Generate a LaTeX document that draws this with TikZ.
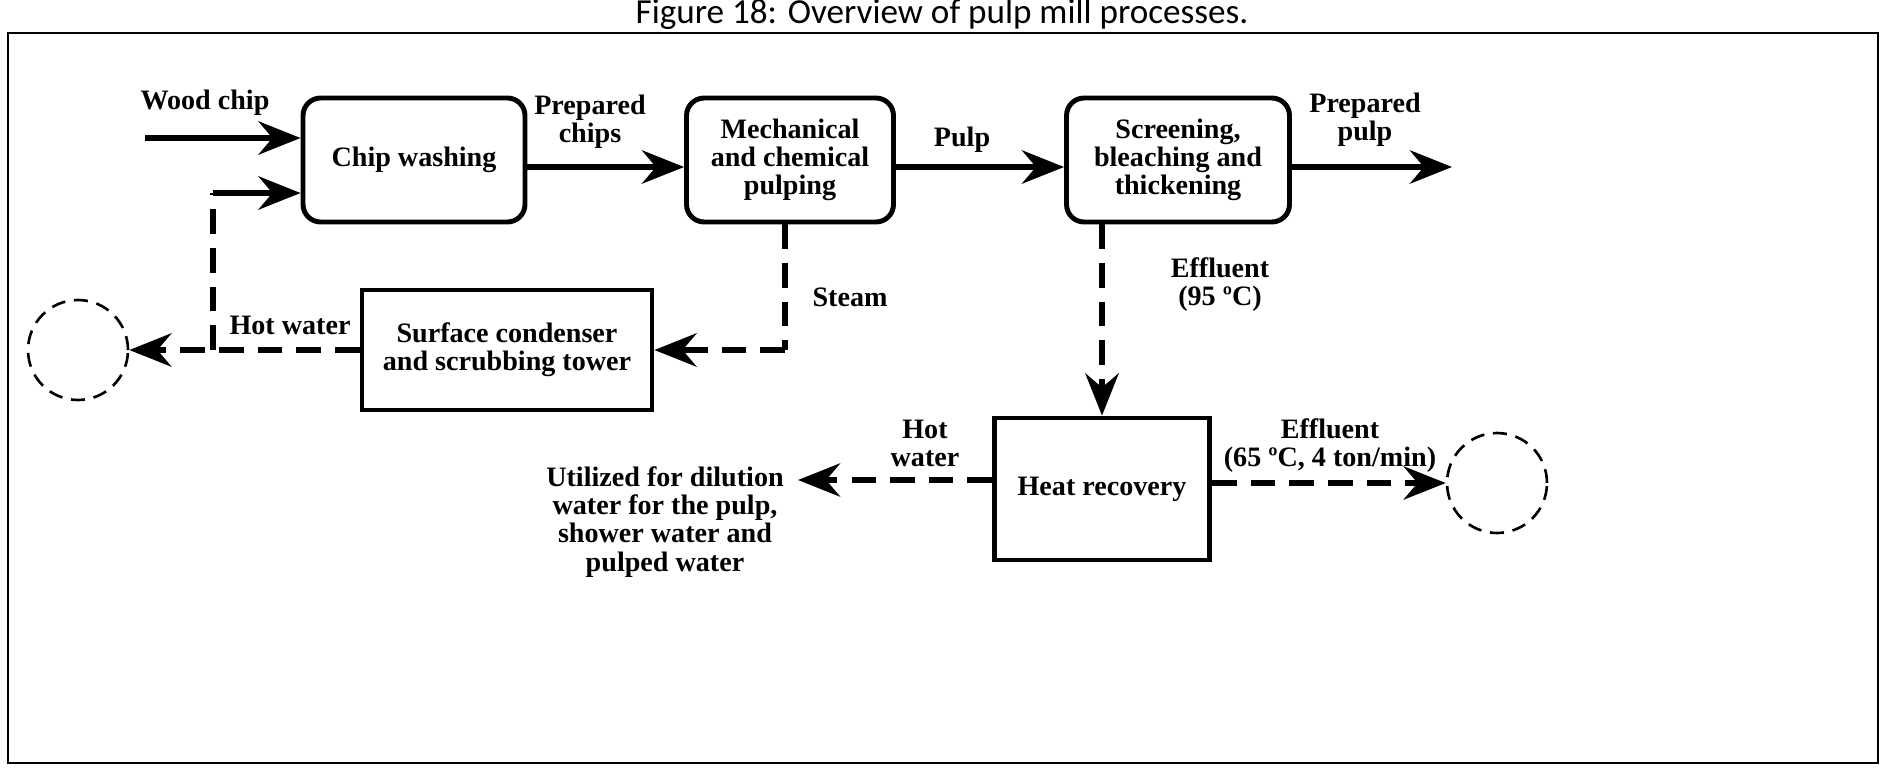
\documentclass[tikz,border=0pt]{standalone}
\usepackage{fontspec}
\setmainfont{Liberation Serif}
\newfontfamily\capfont{Carlito}
\usetikzlibrary{arrows.meta}
\begin{document}
\begin{tikzpicture}[x=0.02cm,y=-0.02cm,
  box/.style={draw,line width=2.8pt,rounded corners=10pt,align=center,font=\bfseries\fontsize{16}{16}\selectfont},
  sbox/.style={draw,line width=2.8pt,align=center,font=\bfseries\fontsize{16}{16}\selectfont},
  lbl/.style={align=center,font=\bfseries\fontsize{16}{16}\selectfont},
  fl/.style={line width=3pt,-{Stealth[length=24pt,width=19pt,inset=8pt]}},
  dfl/.style={fl,dash pattern=on 14pt off 8pt},
  dl/.style={line width=3pt,dash pattern=on 14pt off 8pt},
  circ/.style={draw,circle,line width=1.5pt,dash pattern=on 8pt off 5pt,minimum size=2cm,inner sep=0pt}]
\useasboundingbox (0,0) rectangle (1885,771);
\clip (0,0) rectangle (1885,771);
\node[font=\capfont\fontsize{20}{20}\selectfont] (title) at (942,14) {Figure 18: Overview of pulp mill processes.};
\draw[line width=1.5pt] (8,33) rectangle (1878,763);
\node[box,minimum width=4.44cm,minimum height=2.48cm] (cw) at (414,160) {Chip washing};
\node[box,minimum width=4.14cm,minimum height=2.48cm] (mp) at (790,160) {Mechanical\\and chemical\\pulping};
\node[box,minimum width=4.46cm,minimum height=2.48cm] (sb) at (1178,160) {Screening,\\bleaching and\\thickening};
\node[sbox,minimum width=5.8cm,minimum height=2.4cm] (sc) at (507,350) {Surface condenser\\and scrubbing tower};
\node[sbox,minimum width=4.3cm,minimum height=2.84cm] (hr) at (1102,489) {Heat recovery};
\node[circ] (c1) at (78,350) {};
\node[circ] (c2) at (1497,483) {};
\coordinate (wc) at (145,138);
\coordinate (pp) at (1452,167);
\coordinate (uw) at (798,480);
\coordinate (hw1) at (213,350);
\coordinate (hw2) at (213,193);
\coordinate (st) at (785,350);
\draw[fl] (wc) -- (wc -| cw.west);
\draw[fl] (cw.east |- 0,167) -- (mp.west |- 0,167);
\draw[fl] (mp.east |- 0,167) -- (sb.west |- 0,167);
\draw[fl] (sb.east |- 0,167) -- (pp);
\draw[dfl] (sc.west) -- (c1.east);
\draw[dl] (hw1) -- (hw2);
\draw[fl] (hw2) -- (hw2 -| cw.west);
\draw[dl] (mp.south -| st) -- (st);
\draw[dfl] (st) -- (sc.east);
\draw[dfl] (sb.south -| hr.north) -- (hr.north);
\draw[dfl] (hr.west |- uw) -- (uw);
\draw[dfl] (hr.east |- c2.west) -- (c2.west);
\node[lbl] (l1) at (205,103) {Wood chip};
\node[lbl] (l2) at (590,122) {Prepared\\chips};
\node[lbl] (l3) at (962,140) {Pulp};
\node[lbl] (l4) at (1365,120) {Prepared\\pulp};
\node[lbl] (l5) at (290,325) {Hot water};
\node[lbl] (l6) at (850,297) {Steam};
\node[lbl] (l7) at (1220,285) {Effluent\\(95 ºC)};
\node[lbl] (l8) at (925,443) {Hot\\water};
\node[lbl] (l9) at (665,522) {Utilized for dilution\\water for the pulp,\\shower water and\\pulped water};
\node[lbl] (l10) at (1330,446) {Effluent\\(65 ºC, 4 ton/min)};
\end{tikzpicture}
\end{document}
